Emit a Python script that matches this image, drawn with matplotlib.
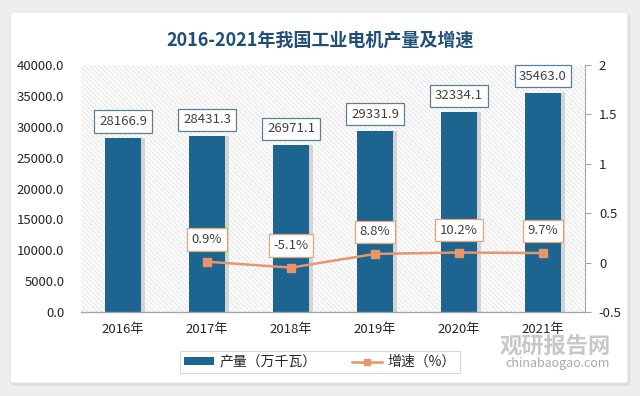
import matplotlib
matplotlib.use("Agg")
import matplotlib.pyplot as plt
from matplotlib.patches import Rectangle, FancyBboxPatch
from matplotlib.lines import Line2D
from matplotlib.patches import Patch

plt.rcParams['font.family'] = ['Noto Sans CJK SC', 'DejaVu Sans']
plt.rcParams['hatch.linewidth'] = 0.6
plt.rcParams['hatch.color'] = '#dedede'

years = ['2016年', '2017年', '2018年', '2019年', '2020年', '2021年']
output = [28166.9, 28431.3, 26971.1, 29331.9, 32334.1, 35463.0]
growth_years = ['2017年', '2018年', '2019年', '2020年', '2021年']
growth = [0.009, -0.051, 0.088, 0.102, 0.097]
growth_labels = ['0.9%', '-5.1%', '8.8%', '10.2%', '9.7%']
left_ticks = [0, 5000, 10000, 15000, 20000, 25000, 30000, 35000, 40000]
right_ticks = [-0.5, 0, 0.5, 1, 1.5, 2]
right_tick_labels = ['-0.5', '0', '0.5', '1', '1.5', '2']

bar_color = '#1b6590'
line_color = '#e8956a'
title_color = '#1f4e79'
text_color = '#404040'

fig = plt.figure(figsize=(6.4, 3.96), dpi=100)
fig.patch.set_facecolor('#eeeeee')

# white panel with shadow
shadow = FancyBboxPatch((12/640, 10/396), 618/640, 372/396,
                        boxstyle='round,pad=0,rounding_size=0.005',
                        transform=fig.transFigure, facecolor='#dcdcdc',
                        edgecolor='none', zorder=-3)
fig.patches.append(shadow)
panel = FancyBboxPatch((10/640, 13/396), 618/640, 371/396,
                       boxstyle='round,pad=0,rounding_size=0.005',
                       transform=fig.transFigure, facecolor='white',
                       edgecolor='#e4e4e4', lw=0.8, zorder=-2)
fig.patches.append(panel)

ax = fig.add_axes([81/640, 1-312/396, (585-81)/640, (312-65)/396])
ax.set_facecolor('white')
ax.patch.set_alpha(0)

x = list(range(len(years)))
hatch_bg = Rectangle((0, 0), 1, 1, transform=ax.transAxes, facecolor='white',
                     edgecolor='#dedede', hatch='\\\\\\\\\\\\\\', lw=0, zorder=0)
ax.add_patch(hatch_bg)

# bar shadows
ax.bar([i + 0.04 for i in x], output, width=0.44, color='#bdbdbd', alpha=0.6, zorder=1)
ax.bar(x, output, width=0.42, color=bar_color, zorder=2)
ax.set_xlim(-0.5, len(years) - 0.5)
ax.set_ylim(0, 40000)
ax.set_yticks(left_ticks)
ax.set_yticklabels([f'{v:.1f}' for v in left_ticks], fontsize=9.5, color='#262626')
ax.set_xticks(x)
ax.set_xticklabels(years, fontsize=9.5, color='#262626')
ax.tick_params(axis='both', length=0, pad=8)
ax.tick_params(axis='y', pad=12)
for s in ['top', 'right', 'left']:
    ax.spines[s].set_visible(False)
ax.spines['bottom'].set_color('#a6a6a6')
ax.spines['bottom'].set_linewidth(1.0)

for i, v in enumerate(output):
    ax.annotate(f'{v:.1f}', (i, v), xytext=(0, 12), textcoords='offset points',
                ha='center', va='center', fontsize=9.5, color=text_color, zorder=6,
                bbox=dict(boxstyle='square,pad=0.35', facecolor='white',
                          edgecolor='#5b7f99', lw=0.9))

ax2 = ax.twinx()
ax2.set_ylim(-0.5, 2)
ax2.set_yticks(right_ticks)
ax2.set_yticklabels(right_tick_labels, fontsize=9.5, color='#262626')
gx = [years.index(y) for y in growth_years]
ax2.plot(gx, growth, color=line_color, lw=1.8, marker='s', markersize=6,
         markerfacecolor=line_color, markeredgecolor=line_color, zorder=5)
for xi, g, lab in zip(gx, growth, growth_labels):
    ax2.annotate(lab, (xi, g), xytext=(0, 16), textcoords='offset points',
                 ha='center', va='center', fontsize=9.5, color=text_color, zorder=6,
                 bbox=dict(boxstyle='square,pad=0.35', facecolor='white',
                           edgecolor='#e8a27c', lw=0.9))
for s in ['top', 'left', 'bottom']:
    ax2.spines[s].set_visible(False)
ax2.spines['right'].set_color('#a6a6a6')
ax2.tick_params(axis='y', direction='out', length=4, color='#a6a6a6', pad=6)

fig.text(0.5, 1-40/396, '2016-2021年我国工业电机产量及增速', ha='center', va='center',
         fontsize=13, fontweight='bold', color=title_color)

handles = [Patch(facecolor=bar_color, edgecolor='none'),
           Line2D([0], [0], color=line_color, lw=1.8, marker='s', markersize=5)]
leg = fig.legend(handles, ['产量（万千瓦）', '增速（%）'], loc='center',
                 bbox_to_anchor=(320/640, 1-362/396), ncol=2, frameon=True,
                 fontsize=10, fancybox=False, edgecolor='#d0d0d0',
                 handlelength=2.2, handleheight=0.5, handletextpad=0.4,
                 columnspacing=2.5, borderpad=0.3)
leg.get_frame().set_linewidth(0.8)
for t in leg.get_texts():
    t.set_color('#262626')

# watermark
fig.text(555/640, 1-347/396, '观研报告网', ha='center', va='center', fontsize=16,
         fontweight='bold', color='#b0b0b0', alpha=0.7, zorder=-1)
fig.text(558/640, 1-364/396, 'chinabaogao.com', ha='center', va='center', fontsize=9,
         color='#a0a0a0', alpha=0.9, zorder=-1)

fig.savefig('out.png', dpi=100, facecolor=fig.get_facecolor())
